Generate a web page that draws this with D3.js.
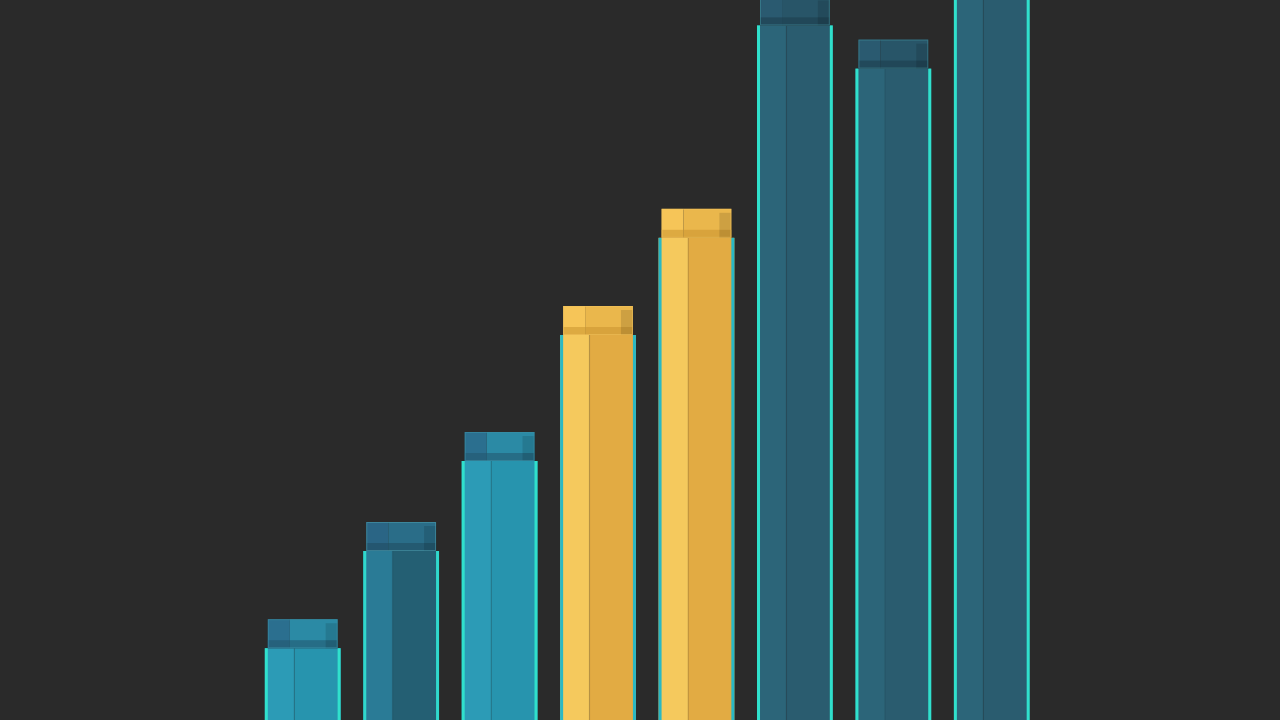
<!DOCTYPE html>
<html>
<head>
<meta charset="utf-8">
<script src="https://cdn.jsdelivr.net/npm/d3@7/dist/d3.min.js"></script>
<style>
  html, body { margin: 0; padding: 0; background: #2a2a2a; overflow: hidden; }
  svg { display: block; }
</style>
</head>
<body>
<svg id="chart" width="1280" height="720"></svg>
<script>
// ---- data ----
const categories = ["A", "B", "C", "D", "E", "F", "G", "H"];
const values = [14, 27.5, 40, 57.5, 71, 100.5, 94.5, 110];
const groups = ["bright", "mid", "bright", "gold", "gold", "deep", "deep", "deep"];

// ---- styles ----
const palette = {
  bright: { left: "#2c9bb6", right: "#2794ae", capL: "#2b6f8f", capR: "#2b8aa5", seam: "#22566e", edge: "#30e0cc", capStroke: "#3a8fa5" },
  mid:    { left: "#2a7b96", right: "#245f73", capL: "#2a6585", capR: "#2a6d88", seam: "#1f4a5e", edge: "#30d8cc", capStroke: "#4a9aaa" },
  gold:   { left: "#f5c95d", right: "#e2ab43", capL: "#f6c558", capR: "#eab74c", seam: "#c9932f", edge: "#2ab8c4", capStroke: "#f2c25a" },
  deep:   { left: "#2c6579", right: "#2a5c6f", capL: "#2a5a70", capR: "#285568", seam: "#1c3c4a", edge: "#30e0cc", capStroke: "#3f8a98" }
};

const W = 1280, H = 720;
const svg = d3.select("#chart");
svg.append("rect").attr("width", W).attr("height", H).attr("fill", "#2a2a2a");

const x = d3.scaleBand().domain(categories).range([253.5, 1041]).paddingInner(0.23).paddingOuter(0.115);
const y = d3.scaleLinear().domain([0, 100]).range([H, 0]);

const capH = 29, inset = 3, edgeW = 3, splitFrac = 0.39;

const data = categories.map((c, i) => ({ c, v: values[i], g: groups[i] }));

const bars = svg.selectAll("g.bar").data(data).join("g").attr("class", "bar");

bars.each(function(d) {
  const g = d3.select(this);
  const p = palette[d.g];
  const x0 = x(d.c), bw = x.bandwidth(), x1 = x0 + bw;
  const top = y(d.v), bodyTop = top + capH;
  const xs = x0 + bw * splitFrac;

  // body faces
  g.append("rect").attr("x", x0).attr("y", bodyTop).attr("width", xs - x0).attr("height", H - bodyTop).attr("fill", p.left);
  g.append("rect").attr("x", xs).attr("y", bodyTop).attr("width", x1 - xs).attr("height", H - bodyTop).attr("fill", p.right);
  // subtle divider
  g.append("rect").attr("x", xs - 1).attr("y", bodyTop).attr("width", 1.5).attr("height", H - bodyTop).attr("fill", "#000").attr("opacity", 0.07);
  // edges
  g.append("rect").attr("x", x0).attr("y", bodyTop).attr("width", edgeW).attr("height", H - bodyTop).attr("fill", p.edge);
  g.append("rect").attr("x", x1 - edgeW).attr("y", bodyTop).attr("width", edgeW).attr("height", H - bodyTop).attr("fill", p.edge);

  // cap
  const cx0 = x0 + inset, cx1 = x1 - inset, cxs = x0 + bw * 0.33;
  g.append("rect").attr("x", cx0).attr("y", top).attr("width", cxs - cx0).attr("height", capH).attr("fill", p.capL);
  g.append("rect").attr("x", cxs).attr("y", top).attr("width", cx1 - cxs).attr("height", capH).attr("fill", p.capR);
  // seam band at bottom of cap
  g.append("rect").attr("x", cx0).attr("y", top + capH - 8).attr("width", cx1 - cx0).attr("height", 8).attr("fill", p.seam).attr("opacity", 0.55);
  // shadow on right of cap
  g.append("rect").attr("x", cx1 - 12).attr("y", top + 4).attr("width", 12).attr("height", capH - 4).attr("fill", "#000").attr("opacity", 0.12);
  // cap outline
  g.append("rect").attr("x", cx0 + 0.5).attr("y", top + 0.5).attr("width", cx1 - cx0 - 1).attr("height", capH - 1)
    .attr("fill", "none").attr("stroke", p.capStroke).attr("stroke-width", 1).attr("opacity", 0.6);
});
</script>
</body>
</html>
